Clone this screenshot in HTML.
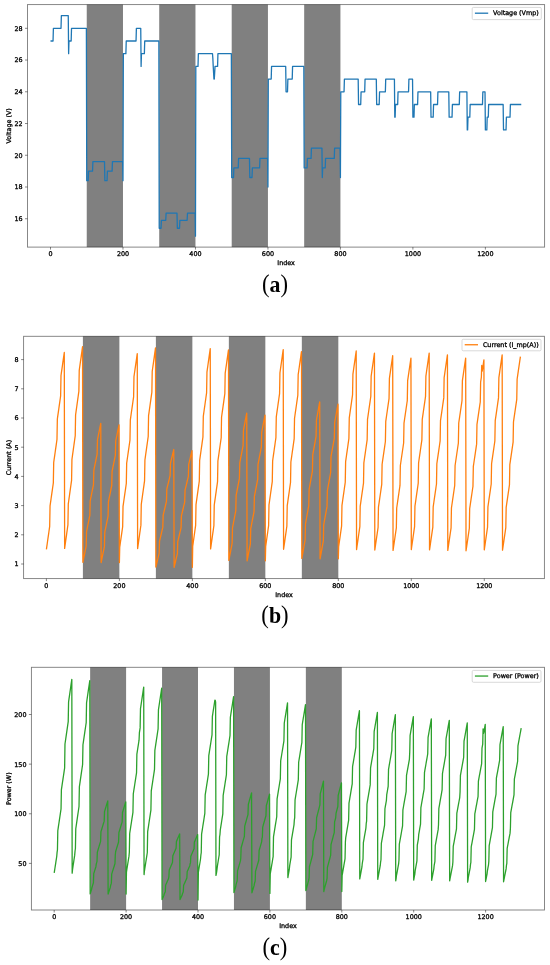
<!DOCTYPE html>
<html><head><meta charset="utf-8"><title>Figure</title>
<style>
html,body{margin:0;padding:0;background:#fff;}
body{width:550px;height:965px;position:relative;overflow:hidden;}
.t{font-family:'DejaVu Sans','Liberation Sans',sans-serif;font-size:6.4px;fill:#000;stroke:#000;stroke-width:0.3px;}
.cap{position:absolute;left:0;width:550px;text-align:center;font-family:'Liberation Serif','DejaVu Serif',serif;font-size:23.5px;line-height:30px;color:#000;transform:scaleX(0.93);transform-origin:274.6px 0;white-space:nowrap;}
.cap b{font-weight:bold;}
.cap i{font-style:normal;font-size:24.4px;position:relative;top:0.2px;}
</style></head><body>
<svg width="550" height="965" viewBox="0 0 550 965" style="position:absolute;left:0;top:0">
<rect width="550" height="965" fill="#fff"/>
<rect x="86.74" y="4.60" width="36.24" height="242.50" fill="#808080"/>
<rect x="159.22" y="4.60" width="36.24" height="242.50" fill="#808080"/>
<rect x="231.70" y="4.60" width="36.24" height="242.50" fill="#808080"/>
<rect x="304.18" y="4.60" width="36.24" height="242.50" fill="#808080"/>
<clipPath id="c4"><rect x="27.50" y="4.60" width="517.10" height="242.50"/></clipPath>
<polyline clip-path="url(#c4)" fill="none" stroke="#1f77b4" stroke-width="1.3" stroke-linejoin="round" stroke-linecap="butt" points="50.50,41.00 50.86,41.00 51.22,41.00 51.59,41.00 51.95,41.00 52.31,41.00 52.67,41.00 53.04,41.00 53.40,28.30 53.76,28.30 54.12,28.30 54.49,28.30 54.85,28.30 55.21,28.30 55.57,28.30 55.94,28.30 56.30,28.30 56.66,28.30 57.02,28.30 57.39,28.30 57.75,28.30 58.11,28.30 58.47,28.30 58.84,28.30 59.20,28.30 59.56,28.30 59.92,28.30 60.28,28.30 60.65,28.30 61.01,28.30 61.37,15.60 61.73,15.60 62.10,15.60 62.46,15.60 62.82,15.60 63.18,15.60 63.55,15.60 63.91,15.60 64.27,15.60 64.63,15.60 65.00,15.60 65.36,15.60 65.72,15.60 66.08,15.60 66.45,15.60 66.81,15.60 67.17,15.60 67.53,15.60 67.90,15.60 68.26,15.60 68.62,53.69 68.98,41.00 69.34,41.00 69.71,41.00 70.07,41.00 70.43,41.00 70.79,41.00 71.16,41.00 71.52,28.30 71.88,28.30 72.24,28.30 72.61,28.30 72.97,28.30 73.33,28.30 73.69,28.30 74.06,28.30 74.42,28.30 74.78,28.30 75.14,28.30 75.51,28.30 75.87,28.30 76.23,28.30 76.59,28.30 76.96,28.30 77.32,28.30 77.68,28.30 78.04,28.30 78.40,28.30 78.77,28.30 79.13,28.30 79.49,28.30 79.85,28.30 80.22,28.30 80.58,28.30 80.94,28.30 81.30,28.30 81.67,28.30 82.03,28.30 82.39,28.30 82.75,28.30 83.12,28.30 83.48,28.30 83.84,28.30 84.20,28.30 84.57,28.30 84.93,28.30 85.29,28.30 85.65,28.30 86.02,28.30 86.38,28.30 86.74,180.65 87.10,180.65 87.46,180.65 87.83,180.65 88.19,180.65 88.55,171.13 88.91,171.13 89.28,171.13 89.64,171.13 90.00,171.13 90.36,171.13 90.73,171.13 91.09,171.13 91.45,171.13 91.81,171.13 92.18,171.13 92.54,171.13 92.90,161.61 93.26,161.61 93.63,161.61 93.99,161.61 94.35,161.61 94.71,161.61 95.08,161.61 95.44,161.61 95.80,161.61 96.16,161.61 96.52,161.61 96.89,161.61 97.25,161.61 97.61,161.61 97.97,161.61 98.34,161.61 98.70,161.61 99.06,161.61 99.42,161.61 99.79,161.61 100.15,161.61 100.51,161.61 100.87,161.61 101.24,161.61 101.60,161.61 101.96,161.61 102.32,161.61 102.69,161.61 103.05,161.61 103.41,161.61 103.77,161.61 104.14,161.61 104.50,161.61 104.86,180.65 105.22,180.65 105.58,180.65 105.95,180.65 106.31,180.65 106.67,180.65 107.03,180.65 107.40,171.13 107.76,171.13 108.12,171.13 108.48,171.13 108.85,171.13 109.21,171.13 109.57,171.13 109.93,171.13 110.30,171.13 110.66,171.13 111.02,171.13 111.38,171.13 111.75,171.13 112.11,171.13 112.47,161.61 112.83,161.61 113.20,161.61 113.56,161.61 113.92,161.61 114.28,161.61 114.64,161.61 115.01,161.61 115.37,161.61 115.73,161.61 116.09,161.61 116.46,161.61 116.82,161.61 117.18,161.61 117.54,161.61 117.91,161.61 118.27,161.61 118.63,161.61 118.99,161.61 119.36,161.61 119.72,161.61 120.08,161.61 120.44,161.61 120.81,161.61 121.17,161.61 121.53,161.61 121.89,161.61 122.26,161.61 122.62,161.61 122.98,180.65 123.34,53.69 123.70,53.69 124.07,53.69 124.43,53.69 124.79,53.69 125.15,53.69 125.52,53.69 125.88,53.69 126.24,41.00 126.60,41.00 126.97,41.00 127.33,41.00 127.69,41.00 128.05,41.00 128.42,41.00 128.78,41.00 129.14,41.00 129.50,41.00 129.87,41.00 130.23,41.00 130.59,41.00 130.95,41.00 131.32,41.00 131.68,41.00 132.04,41.00 132.40,41.00 132.76,41.00 133.13,41.00 133.49,41.00 133.85,41.00 134.21,41.00 134.58,41.00 134.94,41.00 135.30,41.00 135.66,41.00 136.03,41.00 136.39,28.30 136.75,28.30 137.11,28.30 137.48,28.30 137.84,28.30 138.20,28.30 138.56,28.30 138.93,28.30 139.29,28.30 139.65,28.30 140.01,28.30 140.38,28.30 140.74,28.30 141.10,66.39 141.46,53.69 141.82,53.69 142.19,53.69 142.55,53.69 142.91,53.69 143.27,53.69 143.64,53.69 144.00,53.69 144.36,53.69 144.72,41.00 145.09,41.00 145.45,41.00 145.81,41.00 146.17,41.00 146.54,41.00 146.90,41.00 147.26,41.00 147.62,41.00 147.99,41.00 148.35,41.00 148.71,41.00 149.07,41.00 149.44,41.00 149.80,41.00 150.16,41.00 150.52,41.00 150.88,41.00 151.25,41.00 151.61,41.00 151.97,41.00 152.33,41.00 152.70,41.00 153.06,41.00 153.42,41.00 153.78,41.00 154.15,41.00 154.51,41.00 154.87,41.00 155.23,41.00 155.60,41.00 155.96,41.00 156.32,41.00 156.68,41.00 157.05,41.00 157.41,41.00 157.77,41.00 158.13,41.00 158.50,41.00 158.86,41.00 159.22,228.26 159.58,228.26 159.94,228.26 160.31,228.26 160.67,228.26 161.03,228.26 161.39,220.33 161.76,220.33 162.12,220.33 162.48,220.33 162.84,220.33 163.21,220.33 163.57,220.33 163.93,220.33 164.29,220.33 164.66,220.33 165.02,220.33 165.38,220.33 165.74,220.33 166.11,213.19 166.47,213.19 166.83,213.19 167.19,213.19 167.56,213.19 167.92,213.19 168.28,213.19 168.64,213.19 169.00,213.19 169.37,213.19 169.73,213.19 170.09,213.19 170.45,213.19 170.82,213.19 171.18,213.19 171.54,213.19 171.90,213.19 172.27,213.19 172.63,213.19 172.99,213.19 173.35,213.19 173.72,213.19 174.08,213.19 174.44,213.19 174.80,213.19 175.17,213.19 175.53,213.19 175.89,213.19 176.25,213.19 176.62,213.19 176.98,213.19 177.34,228.26 177.70,228.26 178.06,228.26 178.43,228.26 178.79,228.26 179.15,228.26 179.51,228.26 179.88,220.33 180.24,220.33 180.60,220.33 180.96,220.33 181.33,220.33 181.69,220.33 182.05,220.33 182.41,220.33 182.78,220.33 183.14,220.33 183.50,220.33 183.86,220.33 184.23,220.33 184.59,220.33 184.95,220.33 185.31,220.33 185.68,220.33 186.04,220.33 186.40,220.33 186.76,220.33 187.12,220.33 187.49,213.19 187.85,213.19 188.21,213.19 188.57,213.19 188.94,213.19 189.30,213.19 189.66,213.19 190.02,213.19 190.39,213.19 190.75,213.19 191.11,213.19 191.47,213.19 191.84,213.19 192.20,213.19 192.56,213.19 192.92,213.19 193.29,213.19 193.65,213.19 194.01,213.19 194.37,213.19 194.74,213.19 195.10,213.19 195.46,236.20 195.82,66.39 196.18,66.39 196.55,66.39 196.91,66.39 197.27,66.39 197.63,66.39 198.00,66.39 198.36,53.69 198.72,53.69 199.08,53.69 199.45,53.69 199.81,53.69 200.17,53.69 200.53,53.69 200.90,53.69 201.26,53.69 201.62,53.69 201.98,53.69 202.35,53.69 202.71,53.69 203.07,53.69 203.43,53.69 203.80,53.69 204.16,53.69 204.52,53.69 204.88,53.69 205.24,53.69 205.61,53.69 205.97,53.69 206.33,53.69 206.69,53.69 207.06,53.69 207.42,53.69 207.78,53.69 208.14,53.69 208.51,53.69 208.87,53.69 209.23,53.69 209.59,53.69 209.96,53.69 210.32,53.69 210.68,53.69 211.04,53.69 211.41,53.69 211.77,53.69 212.13,53.69 212.49,53.69 212.86,58.45 213.22,66.39 213.58,72.74 213.94,79.08 214.30,79.08 214.67,72.74 215.03,66.39 215.39,66.39 215.75,66.39 216.12,66.39 216.48,66.39 216.84,66.39 217.20,66.39 217.57,66.39 217.93,53.69 218.29,53.69 218.65,53.69 219.02,53.69 219.38,53.69 219.74,53.69 220.10,53.69 220.47,53.69 220.83,53.69 221.19,53.69 221.55,53.69 221.92,53.69 222.28,53.69 222.64,53.69 223.00,53.69 223.36,53.69 223.73,53.69 224.09,53.69 224.45,53.69 224.81,53.69 225.18,53.69 225.54,53.69 225.90,53.69 226.26,53.69 226.63,53.69 226.99,53.69 227.35,53.69 227.71,53.69 228.08,53.69 228.44,53.69 228.80,53.69 229.16,53.69 229.53,53.69 229.89,53.69 230.25,53.69 230.61,53.69 230.98,53.69 231.34,53.69 231.70,177.48 232.06,177.48 232.42,177.48 232.79,177.48 233.15,177.48 233.51,177.48 233.87,167.96 234.24,167.96 234.60,167.96 234.96,167.96 235.32,167.96 235.69,167.96 236.05,167.96 236.41,167.96 236.77,167.96 237.14,167.96 237.50,167.96 237.86,167.96 238.22,167.96 238.59,158.43 238.95,158.43 239.31,158.43 239.67,158.43 240.04,158.43 240.40,158.43 240.76,158.43 241.12,158.43 241.48,158.43 241.85,158.43 242.21,158.43 242.57,158.43 242.93,158.43 243.30,158.43 243.66,158.43 244.02,158.43 244.38,158.43 244.75,158.43 245.11,158.43 245.47,158.43 245.83,158.43 246.20,158.43 246.56,158.43 246.92,158.43 247.28,158.43 247.65,158.43 248.01,158.43 248.37,158.43 248.73,158.43 249.10,158.43 249.46,158.43 249.82,177.48 250.18,177.48 250.54,177.48 250.91,177.48 251.27,177.48 251.63,177.48 251.99,177.48 252.36,167.96 252.72,167.96 253.08,167.96 253.44,167.96 253.81,167.96 254.17,167.96 254.53,167.96 254.89,167.96 255.26,167.96 255.62,167.96 255.98,167.96 256.34,167.96 256.71,167.96 257.07,167.96 257.43,167.96 257.79,167.96 258.16,167.96 258.52,167.96 258.88,167.96 259.24,167.96 259.60,167.96 259.97,158.43 260.33,158.43 260.69,158.43 261.05,158.43 261.42,158.43 261.78,158.43 262.14,158.43 262.50,158.43 262.87,158.43 263.23,158.43 263.59,158.43 263.95,158.43 264.32,158.43 264.68,158.43 265.04,158.43 265.40,158.43 265.77,158.43 266.13,158.43 266.49,158.43 266.85,158.43 267.22,158.43 267.58,158.43 267.94,187.00 268.30,79.08 268.66,79.08 269.03,79.08 269.39,79.08 269.75,79.08 270.11,79.08 270.48,79.08 270.84,79.08 271.20,79.08 271.56,66.39 271.93,66.39 272.29,66.39 272.65,66.39 273.01,66.39 273.38,66.39 273.74,66.39 274.10,66.39 274.46,66.39 274.83,66.39 275.19,66.39 275.55,66.39 275.91,66.39 276.28,66.39 276.64,66.39 277.00,66.39 277.36,66.39 277.72,66.39 278.09,66.39 278.45,66.39 278.81,66.39 279.17,66.39 279.54,66.39 279.90,66.39 280.26,66.39 280.62,66.39 280.99,66.39 281.35,66.39 281.71,66.39 282.07,66.39 282.44,66.39 282.80,66.39 283.16,66.39 283.52,66.39 283.89,66.39 284.25,66.39 284.61,66.39 284.97,66.39 285.34,66.39 285.70,66.39 286.06,91.78 286.42,91.78 286.78,91.78 287.15,91.78 287.51,91.78 287.87,79.08 288.23,79.08 288.60,79.08 288.96,79.08 289.32,79.08 289.68,79.08 290.05,79.08 290.41,79.08 290.77,79.08 291.13,79.08 291.50,79.08 291.86,79.08 292.22,79.08 292.58,66.39 292.95,66.39 293.31,66.39 293.67,66.39 294.03,66.39 294.40,66.39 294.76,66.39 295.12,66.39 295.48,66.39 295.84,66.39 296.21,66.39 296.57,66.39 296.93,66.39 297.29,66.39 297.66,66.39 298.02,66.39 298.38,66.39 298.74,66.39 299.11,66.39 299.47,66.39 299.83,66.39 300.19,66.39 300.56,66.39 300.92,66.39 301.28,66.39 301.64,66.39 302.01,66.39 302.37,66.39 302.73,66.39 303.09,66.39 303.46,66.39 303.82,66.39 304.18,167.96 304.54,167.96 304.90,167.96 305.27,167.96 305.63,167.96 305.99,167.96 306.35,167.96 306.72,167.96 307.08,167.96 307.44,158.43 307.80,158.43 308.17,158.43 308.53,158.43 308.89,158.43 309.25,158.43 309.62,158.43 309.98,158.43 310.34,158.43 310.70,158.43 311.07,158.43 311.43,148.12 311.79,148.12 312.15,148.12 312.52,148.12 312.88,148.12 313.24,148.12 313.60,148.12 313.96,148.12 314.33,148.12 314.69,148.12 315.05,148.12 315.41,148.12 315.78,148.12 316.14,148.12 316.50,148.12 316.86,148.12 317.23,148.12 317.59,148.12 317.95,148.12 318.31,148.12 318.68,148.12 319.04,148.12 319.40,148.12 319.76,148.12 320.13,148.12 320.49,148.12 320.85,148.12 321.21,148.12 321.58,148.12 321.94,148.12 322.30,177.48 322.66,167.96 323.02,167.96 323.39,167.96 323.75,167.96 324.11,167.96 324.47,167.96 324.84,167.96 325.20,167.96 325.56,158.43 325.92,158.43 326.29,158.43 326.65,158.43 327.01,158.43 327.37,158.43 327.74,158.43 328.10,158.43 328.46,158.43 328.82,158.43 329.19,158.43 329.55,158.43 329.91,158.43 330.27,158.43 330.64,158.43 331.00,158.43 331.36,158.43 331.72,158.43 332.08,158.43 332.45,158.43 332.81,158.43 333.17,158.43 333.53,158.43 333.90,158.43 334.26,158.43 334.62,148.12 334.98,148.12 335.35,148.12 335.71,148.12 336.07,148.12 336.43,148.12 336.80,148.12 337.16,148.12 337.52,148.12 337.88,148.12 338.25,148.12 338.61,148.12 338.97,148.12 339.33,148.12 339.70,148.12 340.06,148.12 340.42,177.48 340.78,91.78 341.14,91.78 341.51,91.78 341.87,91.78 342.23,91.78 342.59,91.78 342.96,91.78 343.32,91.78 343.68,91.78 344.04,91.78 344.41,79.08 344.77,79.08 345.13,79.08 345.49,79.08 345.86,79.08 346.22,79.08 346.58,79.08 346.94,79.08 347.31,79.08 347.67,79.08 348.03,79.08 348.39,79.08 348.76,79.08 349.12,79.08 349.48,79.08 349.84,79.08 350.20,79.08 350.57,79.08 350.93,79.08 351.29,79.08 351.65,79.08 352.02,79.08 352.38,79.08 352.74,79.08 353.10,79.08 353.47,79.08 353.83,79.08 354.19,79.08 354.55,79.08 354.92,79.08 355.28,79.08 355.64,79.08 356.00,79.08 356.37,79.08 356.73,79.08 357.09,79.08 357.45,79.08 357.82,79.08 358.18,79.08 358.54,104.48 358.90,104.48 359.26,104.48 359.63,104.48 359.99,104.48 360.35,104.48 360.71,104.48 361.08,91.78 361.44,91.78 361.80,91.78 362.16,91.78 362.53,91.78 362.89,91.78 363.25,91.78 363.61,91.78 363.98,91.78 364.34,91.78 364.70,91.78 365.06,79.08 365.43,79.08 365.79,79.08 366.15,79.08 366.51,79.08 366.88,79.08 367.24,79.08 367.60,79.08 367.96,79.08 368.32,79.08 368.69,79.08 369.05,79.08 369.41,79.08 369.77,79.08 370.14,79.08 370.50,79.08 370.86,79.08 371.22,79.08 371.59,79.08 371.95,79.08 372.31,79.08 372.67,79.08 373.04,79.08 373.40,79.08 373.76,79.08 374.12,79.08 374.49,79.08 374.85,79.08 375.21,79.08 375.57,79.08 375.94,79.08 376.30,79.08 376.66,104.48 377.02,104.48 377.38,104.48 377.75,104.48 378.11,104.48 378.47,104.48 378.83,104.48 379.20,104.48 379.56,91.78 379.92,91.78 380.28,91.78 380.65,91.78 381.01,91.78 381.37,91.78 381.73,91.78 382.10,91.78 382.46,91.78 382.82,91.78 383.18,91.78 383.55,91.78 383.91,91.78 384.27,91.78 384.63,91.78 385.00,91.78 385.36,91.78 385.72,79.08 386.08,79.08 386.44,79.08 386.81,79.08 387.17,79.08 387.53,79.08 387.89,79.08 388.26,79.08 388.62,79.08 388.98,79.08 389.34,79.08 389.71,79.08 390.07,79.08 390.43,79.08 390.79,79.08 391.16,79.08 391.52,79.08 391.88,79.08 392.24,79.08 392.61,79.08 392.97,79.08 393.33,79.08 393.69,79.08 394.06,79.08 394.42,79.08 394.78,117.17 395.14,117.17 395.50,104.48 395.87,104.48 396.23,104.48 396.59,104.48 396.95,104.48 397.32,104.48 397.68,104.48 398.04,91.78 398.40,91.78 398.77,91.78 399.13,91.78 399.49,91.78 399.85,91.78 400.22,91.78 400.58,91.78 400.94,91.78 401.30,91.78 401.67,91.78 402.03,91.78 402.39,91.78 402.75,91.78 403.12,91.78 403.48,91.78 403.84,91.78 404.20,91.78 404.56,91.78 404.93,91.78 405.29,91.78 405.65,91.78 406.01,91.78 406.38,91.78 406.74,91.78 407.10,91.78 407.46,91.78 407.83,91.78 408.19,91.78 408.55,91.78 408.91,79.08 409.28,79.08 409.64,79.08 410.00,79.08 410.36,79.08 410.73,79.08 411.09,79.08 411.45,79.08 411.81,79.08 412.18,79.08 412.54,79.08 412.90,117.17 413.26,117.17 413.62,117.17 413.99,117.17 414.35,104.48 414.71,104.48 415.07,104.48 415.44,104.48 415.80,104.48 416.16,104.48 416.52,104.48 416.89,104.48 417.25,104.48 417.61,104.48 417.97,91.78 418.34,91.78 418.70,91.78 419.06,91.78 419.42,91.78 419.79,91.78 420.15,91.78 420.51,91.78 420.87,91.78 421.24,91.78 421.60,91.78 421.96,91.78 422.32,91.78 422.68,91.78 423.05,91.78 423.41,91.78 423.77,91.78 424.13,91.78 424.50,91.78 424.86,91.78 425.22,91.78 425.58,91.78 425.95,91.78 426.31,91.78 426.67,91.78 427.03,91.78 427.40,91.78 427.76,91.78 428.12,91.78 428.48,91.78 428.85,91.78 429.21,91.78 429.57,91.78 429.93,91.78 430.30,91.78 430.66,91.78 431.02,117.17 431.38,117.17 431.74,117.17 432.11,117.17 432.47,117.17 432.83,117.17 433.19,117.17 433.56,104.48 433.92,104.48 434.28,104.48 434.64,104.48 435.01,104.48 435.37,104.48 435.73,104.48 436.09,104.48 436.46,104.48 436.82,104.48 437.18,104.48 437.54,104.48 437.91,91.78 438.27,91.78 438.63,91.78 438.99,91.78 439.36,91.78 439.72,91.78 440.08,91.78 440.44,91.78 440.80,91.78 441.17,91.78 441.53,91.78 441.89,91.78 442.25,91.78 442.62,91.78 442.98,91.78 443.34,91.78 443.70,91.78 444.07,91.78 444.43,91.78 444.79,91.78 445.15,91.78 445.52,91.78 445.88,91.78 446.24,91.78 446.60,91.78 446.97,91.78 447.33,91.78 447.69,91.78 448.05,91.78 448.42,91.78 448.78,91.78 449.14,117.17 449.50,117.17 449.86,117.17 450.23,117.17 450.59,117.17 450.95,117.17 451.31,117.17 451.68,117.17 452.04,117.17 452.40,104.48 452.76,104.48 453.13,104.48 453.49,104.48 453.85,104.48 454.21,104.48 454.58,104.48 454.94,104.48 455.30,104.48 455.66,104.48 456.03,104.48 456.39,104.48 456.75,104.48 457.11,104.48 457.48,104.48 457.84,104.48 458.20,104.48 458.56,104.48 458.92,104.48 459.29,104.48 459.65,91.78 460.01,91.78 460.37,91.78 460.74,91.78 461.10,91.78 461.46,91.78 461.82,91.78 462.19,91.78 462.55,91.78 462.91,91.78 463.27,91.78 463.64,91.78 464.00,91.78 464.36,91.78 464.72,91.78 465.09,91.78 465.45,91.78 465.81,91.78 466.17,91.78 466.54,91.78 466.90,91.78 467.26,129.87 467.62,129.87 467.98,117.17 468.35,117.17 468.71,117.17 469.07,117.17 469.43,117.17 469.80,117.17 470.16,104.48 470.52,104.48 470.88,104.48 471.25,104.48 471.61,104.48 471.97,104.48 472.33,104.48 472.70,104.48 473.06,104.48 473.42,104.48 473.78,104.48 474.15,104.48 474.51,104.48 474.87,104.48 475.23,104.48 475.60,104.48 475.96,104.48 476.32,104.48 476.68,104.48 477.04,104.48 477.41,104.48 477.77,104.48 478.13,104.48 478.49,104.48 478.86,104.48 479.22,104.48 479.58,104.48 479.94,104.48 480.31,104.48 480.67,104.48 481.03,104.48 481.39,104.48 481.76,104.48 482.12,104.48 482.48,104.48 482.84,91.78 483.21,91.78 483.57,91.78 483.93,91.78 484.29,91.78 484.66,91.78 485.02,91.78 485.38,129.87 485.74,129.87 486.10,129.87 486.47,129.87 486.83,129.87 487.19,117.17 487.55,117.17 487.92,117.17 488.28,117.17 488.64,104.48 489.00,104.48 489.37,104.48 489.73,104.48 490.09,104.48 490.45,104.48 490.82,104.48 491.18,104.48 491.54,104.48 491.90,104.48 492.27,104.48 492.63,104.48 492.99,104.48 493.35,104.48 493.72,104.48 494.08,104.48 494.44,104.48 494.80,104.48 495.16,104.48 495.53,104.48 495.89,104.48 496.25,104.48 496.61,104.48 496.98,104.48 497.34,104.48 497.70,104.48 498.06,104.48 498.43,104.48 498.79,104.48 499.15,104.48 499.51,104.48 499.88,104.48 500.24,104.48 500.60,104.48 500.96,104.48 501.33,104.48 501.69,104.48 502.05,104.48 502.41,104.48 502.78,104.48 503.14,104.48 503.50,129.87 503.86,129.87 504.22,129.87 504.59,129.87 504.95,129.87 505.31,129.87 505.67,129.87 506.04,129.87 506.40,117.17 506.76,117.17 507.12,117.17 507.49,117.17 507.85,117.17 508.21,117.17 508.57,117.17 508.94,117.17 509.30,117.17 509.66,117.17 510.02,117.17 510.39,104.48 510.75,104.48 511.11,104.48 511.47,104.48 511.84,104.48 512.20,104.48 512.56,104.48 512.92,104.48 513.28,104.48 513.65,104.48 514.01,104.48 514.37,104.48 514.73,104.48 515.10,104.48 515.46,104.48 515.82,104.48 516.18,104.48 516.55,104.48 516.91,104.48 517.27,104.48 517.63,104.48 518.00,104.48 518.36,104.48 518.72,104.48 519.08,104.48 519.45,104.48 519.81,104.48 520.17,104.48 520.53,104.48 520.90,104.48 521.26,104.48"/>
<rect x="27.50" y="4.60" width="517.10" height="242.50" fill="none" stroke="#000" stroke-opacity="0.52" stroke-width="0.9"/>
<line x1="50.50" y1="247.10" x2="50.50" y2="249.60" stroke="#000" stroke-opacity="0.52" stroke-width="0.9"/>
<text x="50.50" y="256.45" text-anchor="middle" class="t">0</text>
<line x1="122.98" y1="247.10" x2="122.98" y2="249.60" stroke="#000" stroke-opacity="0.52" stroke-width="0.9"/>
<text x="122.98" y="256.45" text-anchor="middle" class="t">200</text>
<line x1="195.46" y1="247.10" x2="195.46" y2="249.60" stroke="#000" stroke-opacity="0.52" stroke-width="0.9"/>
<text x="195.46" y="256.45" text-anchor="middle" class="t">400</text>
<line x1="267.94" y1="247.10" x2="267.94" y2="249.60" stroke="#000" stroke-opacity="0.52" stroke-width="0.9"/>
<text x="267.94" y="256.45" text-anchor="middle" class="t">600</text>
<line x1="340.42" y1="247.10" x2="340.42" y2="249.60" stroke="#000" stroke-opacity="0.52" stroke-width="0.9"/>
<text x="340.42" y="256.45" text-anchor="middle" class="t">800</text>
<line x1="412.90" y1="247.10" x2="412.90" y2="249.60" stroke="#000" stroke-opacity="0.52" stroke-width="0.9"/>
<text x="412.90" y="256.45" text-anchor="middle" class="t">1000</text>
<line x1="485.38" y1="247.10" x2="485.38" y2="249.60" stroke="#000" stroke-opacity="0.52" stroke-width="0.9"/>
<text x="485.38" y="256.45" text-anchor="middle" class="t">1200</text>
<line x1="25.00" y1="218.74" x2="27.50" y2="218.74" stroke="#000" stroke-opacity="0.52" stroke-width="0.9"/>
<text x="22.60" y="221.14" text-anchor="end" class="t">16</text>
<line x1="25.00" y1="187.00" x2="27.50" y2="187.00" stroke="#000" stroke-opacity="0.52" stroke-width="0.9"/>
<text x="22.60" y="189.40" text-anchor="end" class="t">18</text>
<line x1="25.00" y1="155.26" x2="27.50" y2="155.26" stroke="#000" stroke-opacity="0.52" stroke-width="0.9"/>
<text x="22.60" y="157.66" text-anchor="end" class="t">20</text>
<line x1="25.00" y1="123.52" x2="27.50" y2="123.52" stroke="#000" stroke-opacity="0.52" stroke-width="0.9"/>
<text x="22.60" y="125.92" text-anchor="end" class="t">22</text>
<line x1="25.00" y1="91.78" x2="27.50" y2="91.78" stroke="#000" stroke-opacity="0.52" stroke-width="0.9"/>
<text x="22.60" y="94.18" text-anchor="end" class="t">24</text>
<line x1="25.00" y1="60.04" x2="27.50" y2="60.04" stroke="#000" stroke-opacity="0.52" stroke-width="0.9"/>
<text x="22.60" y="62.44" text-anchor="end" class="t">26</text>
<line x1="25.00" y1="28.30" x2="27.50" y2="28.30" stroke="#000" stroke-opacity="0.52" stroke-width="0.9"/>
<text x="22.60" y="30.70" text-anchor="end" class="t">28</text>
<text x="286.05" y="265.10" text-anchor="middle" class="t">Index</text>
<text transform="translate(11.00,125.85) rotate(-90)" text-anchor="middle" class="t">Voltage (V)</text>
<rect x="472.20" y="7.40" width="69.10" height="12.20" rx="1.3" fill="#fff" fill-opacity="0.8" stroke="#c8c8c8" stroke-width="0.7"/>
<line x1="474.90" y1="13.20" x2="488.20" y2="13.20" stroke="#1f77b4" stroke-width="1.3"/>
<text x="493.10" y="15.20" class="t">Voltage (Vmp)</text>
<rect x="82.89" y="336.30" width="36.49" height="242.30" fill="#808080"/>
<rect x="155.87" y="336.30" width="36.49" height="242.30" fill="#808080"/>
<rect x="228.85" y="336.30" width="36.49" height="242.30" fill="#808080"/>
<rect x="301.83" y="336.30" width="36.49" height="242.30" fill="#808080"/>
<clipPath id="c336"><rect x="23.60" y="336.30" width="520.80" height="242.30"/></clipPath>
<polyline clip-path="url(#c336)" fill="none" stroke="#ff7f0e" stroke-width="1.3" stroke-linejoin="round" stroke-linecap="butt" points="46.40,549.43 46.76,546.87 47.13,544.31 47.49,541.75 47.86,539.19 48.22,536.63 48.59,534.07 48.95,531.51 49.32,528.95 49.68,526.39 50.05,505.95 50.41,503.39 50.78,500.83 51.14,498.27 51.51,495.71 51.87,493.15 52.24,490.59 52.60,488.03 52.97,485.47 53.33,482.91 53.70,462.47 54.06,459.91 54.43,457.35 54.79,454.79 55.16,452.23 55.52,449.67 55.89,447.11 56.25,444.55 56.62,441.99 56.98,439.43 57.35,418.99 57.71,416.43 58.08,413.87 58.44,411.31 58.81,408.75 59.17,406.19 59.54,403.63 59.90,401.07 60.27,398.51 60.63,395.95 61.00,375.51 61.36,372.95 61.73,370.39 62.09,367.83 62.46,365.27 62.82,362.71 63.19,360.15 63.55,357.59 63.92,355.03 64.28,352.47 64.64,548.39 65.01,545.77 65.37,543.15 65.74,540.53 66.10,537.91 66.47,535.29 66.83,532.66 67.20,530.04 67.56,527.42 67.93,524.80 68.29,503.87 68.66,501.25 69.02,498.63 69.39,496.01 69.75,493.39 70.12,490.77 70.48,488.15 70.85,485.53 71.21,482.91 71.58,480.29 71.94,459.35 72.31,456.73 72.67,454.11 73.04,451.49 73.40,448.87 73.77,446.25 74.13,443.63 74.50,441.01 74.86,438.39 75.23,435.77 75.59,414.84 75.96,412.22 76.32,409.60 76.69,406.98 77.05,404.35 77.42,401.73 77.78,399.11 78.15,396.49 78.51,393.87 78.88,391.25 79.24,370.32 79.61,367.70 79.97,365.08 80.34,362.46 80.70,359.84 81.07,357.22 81.43,354.60 81.80,351.98 82.16,349.36 82.53,346.74 82.89,562.32 83.25,560.51 83.62,558.71 83.98,556.90 84.35,555.09 84.71,553.29 85.08,551.48 85.44,549.68 85.81,547.87 86.17,546.06 86.54,531.64 86.90,529.83 87.27,528.03 87.63,526.22 88.00,524.42 88.36,522.61 88.73,520.80 89.09,519.00 89.46,517.19 89.82,515.39 90.19,500.96 90.55,499.16 90.92,497.35 91.28,495.54 91.65,493.74 92.01,491.93 92.38,490.13 92.74,488.32 93.11,486.51 93.47,484.71 93.84,470.28 94.20,468.48 94.57,466.67 94.93,464.87 95.30,463.06 95.66,461.25 96.03,459.45 96.39,457.64 96.76,455.84 97.12,454.03 97.49,439.60 97.85,437.80 98.22,435.99 98.58,434.19 98.95,432.38 99.31,430.57 99.68,428.77 100.04,426.96 100.41,425.16 100.77,423.35 101.13,562.59 101.50,560.80 101.86,559.01 102.23,557.21 102.59,555.42 102.96,553.63 103.32,551.84 103.69,550.05 104.05,548.26 104.42,546.47 104.78,532.17 105.15,530.38 105.51,528.59 105.88,526.80 106.24,525.01 106.61,523.22 106.97,521.43 107.34,519.64 107.70,517.85 108.07,516.06 108.43,501.76 108.80,499.97 109.16,498.18 109.53,496.39 109.89,494.60 110.26,492.81 110.62,491.02 110.99,489.23 111.35,487.44 111.72,485.65 112.08,471.35 112.45,469.56 112.81,467.77 113.18,465.98 113.54,464.19 113.91,462.40 114.27,460.61 114.64,458.82 115.00,457.02 115.37,455.23 115.73,440.93 116.10,439.14 116.46,437.35 116.83,435.56 117.19,433.77 117.56,431.98 117.92,430.19 118.29,428.40 118.65,426.61 119.02,424.82 119.38,562.59 119.74,547.10 120.11,544.55 120.47,542.00 120.84,539.46 121.20,536.91 121.57,534.36 121.93,531.82 122.30,529.27 122.66,526.72 123.03,506.38 123.39,503.83 123.76,501.28 124.12,498.74 124.49,496.19 124.85,493.64 125.22,491.09 125.58,488.55 125.95,486.00 126.31,483.45 126.68,463.11 127.04,460.56 127.41,458.01 127.77,455.47 128.14,452.92 128.50,450.37 128.87,447.83 129.23,445.28 129.60,442.73 129.96,440.18 130.33,419.84 130.69,417.29 131.06,414.74 131.42,412.20 131.79,409.65 132.15,407.10 132.52,404.56 132.88,402.01 133.25,399.46 133.61,396.92 133.98,376.57 134.34,374.02 134.71,371.48 135.07,368.93 135.44,366.38 135.80,363.84 136.17,361.29 136.53,358.74 136.90,356.19 137.26,353.65 137.62,548.60 137.99,545.99 138.35,543.39 138.72,540.78 139.08,538.17 139.45,535.56 139.81,532.95 140.18,530.35 140.54,527.74 140.91,525.13 141.27,504.30 141.64,501.69 142.00,499.08 142.37,496.47 142.73,493.87 143.10,491.26 143.46,488.65 143.83,486.04 144.19,483.43 144.56,480.83 144.92,459.99 145.29,457.39 145.65,454.78 146.02,452.17 146.38,449.56 146.75,446.95 147.11,444.34 147.48,441.74 147.84,439.13 148.21,436.52 148.57,415.69 148.94,413.08 149.30,410.47 149.67,407.86 150.03,405.26 150.40,402.65 150.76,400.04 151.13,397.43 151.49,394.82 151.86,392.22 152.22,371.38 152.59,368.78 152.95,366.17 153.32,363.56 153.68,360.95 154.05,358.34 154.41,355.74 154.78,353.13 155.14,350.52 155.51,347.91 155.87,567.08 156.23,565.55 156.60,564.02 156.96,562.49 157.33,560.97 157.69,559.44 158.06,557.91 158.42,556.38 158.79,554.86 159.15,553.33 159.52,541.13 159.88,539.60 160.25,538.07 160.61,536.54 160.98,535.02 161.34,533.49 161.71,531.96 162.07,530.43 162.44,528.91 162.80,527.38 163.17,515.18 163.53,513.65 163.90,512.12 164.26,510.59 164.63,509.07 164.99,507.54 165.36,506.01 165.72,504.48 166.09,502.96 166.45,501.43 166.82,489.23 167.18,487.70 167.55,486.17 167.91,484.64 168.28,483.12 168.64,481.59 169.01,480.06 169.37,478.53 169.74,477.01 170.10,475.48 170.47,463.28 170.83,461.75 171.20,460.22 171.56,458.69 171.93,457.16 172.29,455.64 172.66,454.11 173.02,452.58 173.39,451.05 173.75,449.53 174.12,567.29 174.48,565.78 174.84,564.26 175.21,562.75 175.57,561.23 175.94,559.72 176.30,558.20 176.67,556.69 177.03,555.17 177.40,553.66 177.76,541.55 178.13,540.04 178.49,538.52 178.86,537.01 179.22,535.49 179.59,533.98 179.95,532.46 180.32,530.95 180.68,529.43 181.05,527.92 181.41,515.82 181.78,514.30 182.14,512.79 182.51,511.27 182.87,509.75 183.24,508.24 183.60,506.72 183.97,505.21 184.33,503.69 184.70,502.18 185.06,490.08 185.43,488.56 185.79,487.05 186.16,485.53 186.52,484.02 186.89,482.50 187.25,480.99 187.62,479.47 187.98,477.96 188.35,476.44 188.71,464.34 189.08,462.82 189.44,461.31 189.81,459.79 190.17,458.28 190.54,456.76 190.90,455.25 191.27,453.73 191.63,452.22 192.00,450.70 192.36,567.29 192.72,546.14 193.09,543.54 193.45,540.94 193.82,538.33 194.18,535.73 194.55,533.13 194.91,530.53 195.28,527.93 195.64,525.33 196.01,504.56 196.37,501.96 196.74,499.36 197.10,496.76 197.47,494.16 197.83,491.56 198.20,488.96 198.56,486.36 198.93,483.76 199.29,481.16 199.66,460.39 200.02,457.79 200.39,455.19 200.75,452.59 201.12,449.99 201.48,447.39 201.85,444.79 202.21,442.19 202.58,439.59 202.94,436.99 203.31,416.22 203.67,413.62 204.04,411.02 204.40,408.42 204.77,405.82 205.13,403.22 205.50,400.62 205.86,398.02 206.23,395.42 206.59,392.82 206.96,372.05 207.32,369.45 207.69,366.85 208.05,364.25 208.42,361.65 208.78,359.05 209.15,356.45 209.51,353.85 209.88,351.25 210.24,348.65 210.61,548.95 210.97,546.36 211.33,543.77 211.70,541.19 212.06,538.60 212.43,536.01 212.79,533.42 213.16,530.84 213.52,528.25 213.89,525.66 214.25,504.99 214.62,502.40 214.98,499.82 215.35,497.23 215.71,494.64 216.08,492.05 216.44,489.46 216.81,486.88 217.17,484.29 217.54,481.70 217.90,461.03 218.27,458.44 218.63,455.86 219.00,453.27 219.36,450.68 219.73,448.09 220.09,445.50 220.46,442.92 220.82,440.33 221.19,437.74 221.55,417.07 221.92,414.48 222.28,411.90 222.65,409.31 223.01,406.72 223.38,404.13 223.74,401.55 224.11,398.96 224.47,396.37 224.84,393.78 225.20,373.11 225.57,370.53 225.93,367.94 226.30,365.35 226.66,362.76 227.03,360.17 227.39,357.59 227.76,355.00 228.12,352.41 228.49,349.82 228.85,560.45 229.21,558.53 229.58,556.62 229.94,554.70 230.31,552.79 230.67,550.87 231.04,548.95 231.40,547.04 231.77,545.12 232.13,543.21 232.50,527.91 232.86,525.99 233.23,524.08 233.59,522.16 233.96,520.25 234.32,518.33 234.69,516.42 235.05,514.50 235.42,512.59 235.78,510.67 236.15,495.37 236.51,493.46 236.88,491.54 237.24,489.63 237.61,487.71 237.97,485.79 238.34,483.88 238.70,481.96 239.07,480.05 239.43,478.13 239.80,462.83 240.16,460.92 240.53,459.00 240.89,457.09 241.26,455.17 241.62,453.26 241.99,451.34 242.35,449.43 242.72,447.51 243.08,445.59 243.45,430.30 243.81,428.38 244.18,426.46 244.54,424.55 244.91,422.63 245.27,420.72 245.64,418.80 246.00,416.89 246.37,414.97 246.73,413.06 247.09,560.82 247.46,558.93 247.82,557.03 248.19,555.14 248.55,553.25 248.92,551.35 249.28,549.46 249.65,547.57 250.01,545.67 250.38,543.78 250.74,528.66 251.11,526.76 251.47,524.87 251.84,522.97 252.20,521.08 252.57,519.19 252.93,517.29 253.30,515.40 253.66,513.51 254.03,511.61 254.39,496.49 254.76,494.60 255.12,492.70 255.49,490.81 255.85,488.92 256.22,487.02 256.58,485.13 256.95,483.23 257.31,481.34 257.68,479.45 258.04,464.32 258.41,462.43 258.77,460.54 259.14,458.64 259.50,456.75 259.87,454.86 260.23,452.96 260.60,451.07 260.96,449.18 261.33,447.28 261.69,432.16 262.06,430.26 262.42,428.37 262.79,426.48 263.15,424.58 263.52,422.69 263.88,420.80 264.25,418.90 264.61,417.01 264.98,415.12 265.34,560.82 265.70,546.31 266.07,543.71 266.43,541.12 266.80,538.53 267.16,535.94 267.53,533.35 267.89,530.76 268.26,528.17 268.62,525.58 268.99,504.88 269.35,502.29 269.72,499.70 270.08,497.11 270.45,494.52 270.81,491.93 271.18,489.34 271.54,486.75 271.91,484.16 272.27,481.57 272.64,460.87 273.00,458.28 273.37,455.69 273.73,453.10 274.10,450.51 274.46,447.92 274.83,445.33 275.19,442.74 275.56,440.14 275.92,437.55 276.29,416.86 276.65,414.27 277.02,411.68 277.38,409.09 277.75,406.50 278.11,403.90 278.48,401.31 278.84,398.72 279.21,396.13 279.57,393.54 279.94,372.85 280.30,370.26 280.67,367.67 281.03,365.07 281.40,362.48 281.76,359.89 282.13,357.30 282.49,354.71 282.86,352.12 283.22,349.53 283.58,549.27 283.95,546.70 284.31,544.13 284.68,541.56 285.04,538.99 285.41,536.43 285.77,533.86 286.14,531.29 286.50,528.72 286.87,526.15 287.23,505.63 287.60,503.06 287.96,500.49 288.33,497.92 288.69,495.35 289.06,492.79 289.42,490.22 289.79,487.65 290.15,485.08 290.52,482.51 290.88,461.99 291.25,459.42 291.61,456.85 291.98,454.28 292.34,451.71 292.71,449.14 293.07,446.58 293.44,444.01 293.80,441.44 294.17,438.87 294.53,418.35 294.90,415.78 295.26,413.21 295.63,410.64 295.99,408.07 296.36,405.50 296.72,402.94 297.09,400.37 297.45,397.80 297.82,395.23 298.18,374.71 298.55,372.14 298.91,369.57 299.28,367.00 299.64,364.43 300.01,361.86 300.37,359.29 300.74,356.73 301.10,354.16 301.47,351.59 301.83,558.41 302.19,556.38 302.56,554.35 302.92,552.31 303.29,550.28 303.65,548.24 304.02,546.21 304.38,544.18 304.75,542.14 305.11,540.11 305.48,523.86 305.84,521.82 306.21,519.79 306.57,517.76 306.94,515.72 307.30,513.69 307.67,511.65 308.03,509.62 308.40,507.58 308.76,505.55 309.13,489.30 309.49,487.27 309.86,485.23 310.22,483.20 310.59,481.16 310.95,479.13 311.32,477.10 311.68,475.06 312.05,473.03 312.41,470.99 312.78,454.75 313.14,452.71 313.51,450.68 313.87,448.64 314.24,446.61 314.60,444.57 314.97,442.54 315.33,440.51 315.70,438.47 316.06,436.44 316.43,420.19 316.79,418.15 317.16,416.12 317.52,414.09 317.89,412.05 318.25,410.02 318.62,407.98 318.98,405.95 319.35,403.92 319.71,401.88 320.07,558.84 320.44,556.83 320.80,554.82 321.17,552.81 321.53,550.81 321.90,548.80 322.26,546.79 322.63,544.78 322.99,542.77 323.36,540.76 323.72,524.71 324.09,522.70 324.45,520.69 324.82,518.68 325.18,516.67 325.55,514.66 325.91,512.66 326.28,510.65 326.64,508.64 327.01,506.63 327.37,490.58 327.74,488.57 328.10,486.56 328.47,484.55 328.83,482.54 329.20,480.53 329.56,478.52 329.93,476.52 330.29,474.51 330.66,472.50 331.02,456.45 331.39,454.44 331.75,452.43 332.12,450.42 332.48,448.41 332.85,446.40 333.21,444.39 333.58,442.38 333.94,440.37 334.31,438.37 334.67,422.32 335.04,420.31 335.40,418.30 335.77,416.29 336.13,414.28 336.50,412.27 336.86,410.26 337.23,408.25 337.59,406.24 337.96,404.23 338.32,558.84 338.68,546.59 339.05,544.01 339.41,541.44 339.78,538.86 340.14,536.29 340.51,533.71 340.87,531.14 341.24,528.56 341.60,525.99 341.97,505.42 342.33,502.84 342.70,500.27 343.06,497.69 343.43,495.12 343.79,492.54 344.16,489.97 344.52,487.39 344.89,484.82 345.25,482.24 345.62,461.67 345.98,459.09 346.35,456.52 346.71,453.94 347.08,451.37 347.44,448.79 347.81,446.22 348.17,443.64 348.54,441.07 348.90,438.49 349.27,417.92 349.63,415.35 350.00,412.77 350.36,410.20 350.73,407.62 351.09,405.05 351.46,402.47 351.82,399.90 352.19,397.32 352.55,394.75 352.92,374.18 353.28,371.60 353.65,369.03 354.01,366.45 354.38,363.88 354.74,361.30 355.11,358.73 355.47,356.15 355.84,353.57 356.20,351.00 356.56,549.54 356.93,546.98 357.29,544.43 357.66,541.88 358.02,539.32 358.39,536.77 358.75,534.22 359.12,531.66 359.48,529.11 359.85,526.56 360.21,506.16 360.58,503.61 360.94,501.06 361.31,498.50 361.67,495.95 362.04,493.40 362.40,490.84 362.77,488.29 363.13,485.74 363.50,483.18 363.86,462.79 364.23,460.23 364.59,457.68 364.96,455.13 365.32,452.57 365.69,450.02 366.05,447.47 366.42,444.91 366.78,442.36 367.15,439.81 367.51,419.41 367.88,416.86 368.24,414.31 368.61,411.75 368.97,409.20 369.34,406.65 369.70,404.09 370.07,401.54 370.43,398.99 370.80,396.43 371.16,376.04 371.53,373.49 371.89,370.93 372.26,368.38 372.62,365.83 372.99,363.27 373.35,360.72 373.72,358.17 374.08,355.61 374.45,353.06 374.81,550.02 375.17,547.49 375.54,544.97 375.90,542.44 376.27,539.92 376.63,537.39 377.00,534.87 377.36,532.34 377.73,529.82 378.09,527.29 378.46,507.12 378.82,504.60 379.19,502.07 379.55,499.55 379.92,497.02 380.28,494.50 380.65,491.97 381.01,489.45 381.38,486.92 381.74,484.40 382.11,464.23 382.47,461.70 382.84,459.18 383.20,456.65 383.57,454.12 383.93,451.60 384.30,449.07 384.66,446.55 385.03,444.02 385.39,441.50 385.76,421.33 386.12,418.80 386.49,416.28 386.85,413.75 387.22,411.23 387.58,408.70 387.95,406.18 388.31,403.65 388.68,401.13 389.04,398.60 389.41,378.43 389.77,375.91 390.14,373.38 390.50,370.86 390.87,368.33 391.23,365.81 391.60,363.28 391.96,360.76 392.33,358.23 392.69,355.71 393.06,550.45 393.42,547.95 393.78,545.45 394.15,542.95 394.51,540.45 394.88,537.95 395.24,535.45 395.61,532.95 395.97,530.45 396.34,527.95 396.70,507.98 397.07,505.48 397.43,502.97 397.80,500.47 398.16,497.97 398.53,495.47 398.89,492.97 399.26,490.47 399.62,487.97 399.99,485.47 400.35,465.50 400.72,463.00 401.08,460.50 401.45,458.00 401.81,455.50 402.18,453.00 402.54,450.50 402.91,448.00 403.27,445.50 403.64,443.00 404.00,423.03 404.37,420.53 404.73,418.03 405.10,415.53 405.46,413.03 405.83,410.53 406.19,408.03 406.56,405.53 406.92,403.03 407.29,400.53 407.65,380.56 408.02,378.06 408.38,375.56 408.75,373.06 409.11,370.56 409.48,368.06 409.84,365.56 410.21,363.06 410.57,360.56 410.94,358.06 411.30,549.54 411.66,546.98 412.03,544.43 412.39,541.88 412.76,539.32 413.12,536.77 413.49,534.22 413.85,531.66 414.22,529.11 414.58,526.56 414.95,506.16 415.31,503.61 415.68,501.06 416.04,498.50 416.41,495.95 416.77,493.40 417.14,490.84 417.50,488.29 417.87,485.74 418.23,483.18 418.60,462.79 418.96,460.23 419.33,457.68 419.69,455.13 420.06,452.57 420.42,450.02 420.79,447.47 421.15,444.91 421.52,442.36 421.88,439.81 422.25,419.41 422.61,416.86 422.98,414.31 423.34,411.75 423.71,409.20 424.07,406.65 424.44,404.09 424.80,401.54 425.17,398.99 425.53,396.43 425.90,376.04 426.26,373.49 426.63,370.93 426.99,368.38 427.36,365.83 427.72,363.27 428.09,360.72 428.45,358.17 428.82,355.61 429.18,353.06 429.54,549.86 429.91,547.32 430.27,544.79 430.64,542.26 431.00,539.72 431.37,537.19 431.73,534.65 432.10,532.12 432.46,529.58 432.83,527.05 433.19,506.80 433.56,504.27 433.92,501.73 434.29,499.20 434.65,496.66 435.02,494.13 435.38,491.60 435.75,489.06 436.11,486.53 436.48,483.99 436.84,463.75 437.21,461.21 437.57,458.68 437.94,456.14 438.30,453.61 438.67,451.07 439.03,448.54 439.40,446.00 439.76,443.47 440.13,440.94 440.49,420.69 440.86,418.16 441.22,415.62 441.59,413.09 441.95,410.55 442.32,408.02 442.68,405.48 443.05,402.95 443.41,400.41 443.78,397.88 444.14,377.63 444.51,375.10 444.87,372.57 445.24,370.03 445.60,367.50 445.97,364.96 446.33,362.43 446.70,359.89 447.06,357.36 447.43,354.82 447.79,550.45 448.15,547.95 448.52,545.45 448.88,542.95 449.25,540.45 449.61,537.95 449.98,535.45 450.34,532.95 450.71,530.45 451.07,527.95 451.44,507.98 451.80,505.48 452.17,502.97 452.53,500.47 452.90,497.97 453.26,495.47 453.63,492.97 453.99,490.47 454.36,487.97 454.72,485.47 455.09,465.50 455.45,463.00 455.82,460.50 456.18,458.00 456.55,455.50 456.91,453.00 457.28,450.50 457.64,448.00 458.01,445.50 458.37,443.00 458.74,423.03 459.10,420.53 459.47,418.03 459.83,415.53 460.20,413.03 460.56,410.53 460.93,408.03 461.29,405.53 461.66,403.03 462.02,400.53 462.39,380.56 462.75,378.06 463.12,375.56 463.48,373.06 463.85,370.56 464.21,368.06 464.58,365.56 464.94,363.06 465.31,360.56 465.67,358.06 466.03,550.77 466.40,548.29 466.76,545.80 467.13,543.32 467.49,540.84 467.86,538.36 468.22,535.88 468.59,533.40 468.95,530.92 469.32,528.44 469.68,508.61 470.05,506.13 470.41,503.65 470.78,501.17 471.14,498.69 471.51,496.21 471.87,493.73 472.24,491.24 472.60,488.76 472.97,486.28 473.33,466.46 473.70,463.98 474.06,461.50 474.43,459.02 474.79,456.54 475.16,454.05 475.52,451.57 475.89,449.09 476.25,446.61 476.62,444.13 476.98,424.31 477.35,421.83 477.71,419.35 478.08,416.86 478.44,414.38 478.81,411.90 479.17,409.42 479.54,406.94 479.90,404.46 480.27,401.98 480.63,382.16 481.00,379.67 481.36,377.19 481.73,365.44 482.09,371.28 482.46,369.75 482.82,367.27 483.19,364.79 483.55,362.30 483.92,359.82 484.28,549.86 484.64,547.32 485.01,544.79 485.37,542.26 485.74,539.72 486.10,537.19 486.47,534.65 486.83,532.12 487.20,529.58 487.56,527.05 487.93,506.80 488.29,504.27 488.66,501.73 489.02,499.20 489.39,496.66 489.75,494.13 490.12,491.60 490.48,489.06 490.85,486.53 491.21,483.99 491.58,463.75 491.94,461.21 492.31,458.68 492.67,456.14 493.04,453.61 493.40,451.07 493.77,448.54 494.13,446.00 494.50,443.47 494.86,440.94 495.23,420.69 495.59,418.16 495.96,415.62 496.32,413.09 496.69,410.55 497.05,408.02 497.42,405.48 497.78,402.95 498.15,400.41 498.51,397.88 498.88,377.63 499.24,375.10 499.61,372.57 499.97,370.03 500.34,367.50 500.70,364.96 501.07,362.43 501.43,359.89 501.80,357.36 502.16,354.82 502.52,550.18 502.89,547.66 503.25,545.15 503.62,542.63 503.98,540.12 504.35,537.60 504.71,535.08 505.08,532.57 505.44,530.05 505.81,527.54 506.17,507.44 506.54,504.93 506.90,502.41 507.27,499.89 507.63,497.38 508.00,494.86 508.36,492.35 508.73,489.83 509.09,487.32 509.46,484.80 509.82,464.70 510.19,462.19 510.55,459.67 510.92,457.16 511.28,454.64 511.65,452.13 512.01,449.61 512.38,447.09 512.74,444.58 513.11,442.06 513.47,421.97 513.84,419.45 514.20,416.94 514.57,414.42 514.93,411.90 515.30,409.39 515.66,406.87 516.03,404.36 516.39,401.84 516.76,399.33 517.12,379.23 517.49,376.71 517.85,374.20 518.22,371.68 518.58,369.17 518.95,366.65 519.31,364.14 519.68,361.62 520.04,359.10 520.41,356.59"/>
<rect x="23.60" y="336.30" width="520.80" height="242.30" fill="none" stroke="#000" stroke-opacity="0.52" stroke-width="0.9"/>
<line x1="46.40" y1="578.60" x2="46.40" y2="581.10" stroke="#000" stroke-opacity="0.52" stroke-width="0.9"/>
<text x="46.40" y="587.95" text-anchor="middle" class="t">0</text>
<line x1="119.38" y1="578.60" x2="119.38" y2="581.10" stroke="#000" stroke-opacity="0.52" stroke-width="0.9"/>
<text x="119.38" y="587.95" text-anchor="middle" class="t">200</text>
<line x1="192.36" y1="578.60" x2="192.36" y2="581.10" stroke="#000" stroke-opacity="0.52" stroke-width="0.9"/>
<text x="192.36" y="587.95" text-anchor="middle" class="t">400</text>
<line x1="265.34" y1="578.60" x2="265.34" y2="581.10" stroke="#000" stroke-opacity="0.52" stroke-width="0.9"/>
<text x="265.34" y="587.95" text-anchor="middle" class="t">600</text>
<line x1="338.32" y1="578.60" x2="338.32" y2="581.10" stroke="#000" stroke-opacity="0.52" stroke-width="0.9"/>
<text x="338.32" y="587.95" text-anchor="middle" class="t">800</text>
<line x1="411.30" y1="578.60" x2="411.30" y2="581.10" stroke="#000" stroke-opacity="0.52" stroke-width="0.9"/>
<text x="411.30" y="587.95" text-anchor="middle" class="t">1000</text>
<line x1="484.28" y1="578.60" x2="484.28" y2="581.10" stroke="#000" stroke-opacity="0.52" stroke-width="0.9"/>
<text x="484.28" y="587.95" text-anchor="middle" class="t">1200</text>
<line x1="21.10" y1="564.00" x2="23.60" y2="564.00" stroke="#000" stroke-opacity="0.52" stroke-width="0.9"/>
<text x="18.70" y="566.40" text-anchor="end" class="t">1</text>
<line x1="21.10" y1="534.80" x2="23.60" y2="534.80" stroke="#000" stroke-opacity="0.52" stroke-width="0.9"/>
<text x="18.70" y="537.20" text-anchor="end" class="t">2</text>
<line x1="21.10" y1="505.60" x2="23.60" y2="505.60" stroke="#000" stroke-opacity="0.52" stroke-width="0.9"/>
<text x="18.70" y="508.00" text-anchor="end" class="t">3</text>
<line x1="21.10" y1="476.40" x2="23.60" y2="476.40" stroke="#000" stroke-opacity="0.52" stroke-width="0.9"/>
<text x="18.70" y="478.80" text-anchor="end" class="t">4</text>
<line x1="21.10" y1="447.20" x2="23.60" y2="447.20" stroke="#000" stroke-opacity="0.52" stroke-width="0.9"/>
<text x="18.70" y="449.60" text-anchor="end" class="t">5</text>
<line x1="21.10" y1="418.00" x2="23.60" y2="418.00" stroke="#000" stroke-opacity="0.52" stroke-width="0.9"/>
<text x="18.70" y="420.40" text-anchor="end" class="t">6</text>
<line x1="21.10" y1="388.80" x2="23.60" y2="388.80" stroke="#000" stroke-opacity="0.52" stroke-width="0.9"/>
<text x="18.70" y="391.20" text-anchor="end" class="t">7</text>
<line x1="21.10" y1="359.60" x2="23.60" y2="359.60" stroke="#000" stroke-opacity="0.52" stroke-width="0.9"/>
<text x="18.70" y="362.00" text-anchor="end" class="t">8</text>
<text x="284.00" y="596.60" text-anchor="middle" class="t">Index</text>
<text transform="translate(11.00,457.45) rotate(-90)" text-anchor="middle" class="t">Current (A)</text>
<rect x="462.00" y="339.30" width="79.00" height="11.50" rx="1.3" fill="#fff" fill-opacity="0.8" stroke="#c8c8c8" stroke-width="0.7"/>
<line x1="464.70" y1="344.75" x2="478.00" y2="344.75" stroke="#ff7f0e" stroke-width="1.3"/>
<text x="482.90" y="346.75" class="t">Current (I_mp(A))</text>
<rect x="90.15" y="667.30" width="35.95" height="242.70" fill="#808080"/>
<rect x="162.05" y="667.30" width="35.95" height="242.70" fill="#808080"/>
<rect x="233.95" y="667.30" width="35.95" height="242.70" fill="#808080"/>
<rect x="305.85" y="667.30" width="35.95" height="242.70" fill="#808080"/>
<clipPath id="c667"><rect x="31.40" y="667.30" width="513.10" height="242.70"/></clipPath>
<polyline clip-path="url(#c667)" fill="none" stroke="#2ca02c" stroke-width="1.3" stroke-linejoin="round" stroke-linecap="butt" points="54.20,872.93 54.56,870.59 54.92,868.24 55.28,865.89 55.64,863.55 56.00,861.20 56.36,858.86 56.72,856.51 57.08,852.43 57.44,850.02 57.80,830.73 58.15,828.32 58.51,825.90 58.87,823.49 59.23,821.08 59.59,818.66 59.95,816.25 60.31,813.83 60.67,811.42 61.03,809.00 61.39,789.72 61.75,787.30 62.11,784.89 62.47,782.47 62.83,780.06 63.19,777.64 63.55,775.23 63.91,772.81 64.27,770.40 64.63,767.99 64.98,744.00 65.34,741.52 65.70,739.04 66.06,736.55 66.42,734.07 66.78,731.59 67.14,729.10 67.50,726.62 67.86,724.14 68.22,721.65 68.58,701.81 68.94,699.33 69.30,696.85 69.66,694.36 70.02,691.88 70.38,689.40 70.74,686.91 71.10,684.43 71.46,681.95 71.82,679.46 72.17,873.18 72.53,869.57 72.89,867.17 73.25,864.77 73.61,862.37 73.97,859.97 74.33,857.57 74.69,855.16 75.05,850.99 75.41,848.52 75.77,828.77 76.13,826.30 76.49,823.83 76.85,821.36 77.21,818.88 77.57,816.41 77.93,813.94 78.29,811.47 78.65,809.00 79.01,806.52 79.37,786.78 79.72,784.31 80.08,781.83 80.44,779.36 80.80,776.89 81.16,774.42 81.52,771.95 81.88,769.47 82.24,767.00 82.60,764.53 82.96,744.78 83.32,742.31 83.68,739.84 84.04,737.37 84.40,734.90 84.76,732.42 85.12,729.95 85.48,727.48 85.84,725.01 86.20,722.54 86.56,702.79 86.91,700.32 87.27,697.85 87.63,695.37 87.99,692.90 88.35,690.43 88.71,687.96 89.07,685.48 89.43,683.01 89.79,680.54 90.15,893.90 90.51,892.78 90.87,891.66 91.23,890.54 91.59,889.42 91.95,887.49 92.31,886.34 92.67,885.18 93.03,884.02 93.39,882.87 93.75,873.63 94.10,872.48 94.46,871.32 94.82,870.17 95.18,869.01 95.54,867.85 95.90,866.70 96.26,864.04 96.62,862.85 96.98,861.66 97.34,852.13 97.70,850.94 98.06,849.75 98.42,848.55 98.78,847.36 99.14,846.17 99.50,844.98 99.86,843.78 100.22,842.59 100.58,841.40 100.94,831.87 101.29,830.68 101.65,829.49 102.01,828.30 102.37,827.10 102.73,825.91 103.09,824.72 103.45,823.53 103.81,822.33 104.17,821.14 104.53,811.62 104.89,810.42 105.25,809.23 105.61,808.04 105.97,806.85 106.33,805.65 106.69,804.46 107.05,803.27 107.41,802.08 107.77,800.88 108.12,894.06 108.48,892.95 108.84,891.84 109.20,890.73 109.56,889.62 109.92,888.51 110.28,887.40 110.64,885.42 111.00,884.28 111.36,883.13 111.72,873.98 112.08,872.83 112.44,871.68 112.80,870.54 113.16,869.39 113.52,868.25 113.88,867.10 114.24,865.95 114.60,864.81 114.96,863.66 115.31,854.51 115.67,851.48 116.03,850.29 116.39,849.11 116.75,847.93 117.11,846.75 117.47,845.57 117.83,844.38 118.19,843.20 118.55,842.02 118.91,832.58 119.27,831.39 119.63,830.21 119.99,829.03 120.35,827.85 120.71,826.67 121.07,825.48 121.43,824.30 121.79,823.12 122.15,821.94 122.50,812.49 122.86,811.31 123.22,810.13 123.58,808.95 123.94,807.76 124.30,806.58 124.66,805.40 125.02,804.22 125.38,803.04 125.74,801.85 126.10,894.06 126.46,872.04 126.82,869.77 127.18,867.50 127.54,865.24 127.90,862.97 128.26,860.71 128.62,858.44 128.98,856.18 129.34,852.12 129.69,833.48 130.05,831.14 130.41,828.81 130.77,826.47 131.13,824.14 131.49,821.81 131.85,819.47 132.21,817.14 132.57,814.80 132.93,812.47 133.29,793.83 133.65,791.49 134.01,789.16 134.37,786.82 134.73,784.49 135.09,782.15 135.45,779.82 135.81,777.49 136.17,775.15 136.53,772.82 136.88,754.17 137.24,751.84 137.60,749.51 137.96,747.17 138.32,744.84 138.68,742.50 139.04,740.17 139.40,732.68 139.76,730.28 140.12,727.88 140.48,708.69 140.84,706.28 141.20,703.88 141.56,701.48 141.92,699.07 142.28,696.67 142.64,694.27 143.00,691.87 143.36,689.46 143.72,687.06 144.07,874.58 144.43,871.05 144.79,868.73 145.15,866.41 145.51,864.09 145.87,861.77 146.23,859.46 146.59,857.14 146.95,854.82 147.31,852.50 147.67,831.57 148.03,829.18 148.39,826.79 148.75,824.40 149.11,822.01 149.47,819.62 149.83,817.23 150.19,814.84 150.55,812.45 150.91,810.06 151.26,790.97 151.62,788.58 151.98,786.19 152.34,783.80 152.70,781.41 153.06,779.02 153.42,776.63 153.78,774.24 154.14,771.85 154.50,769.46 154.86,750.37 155.22,747.98 155.58,745.59 155.94,743.20 156.30,740.81 156.66,738.42 157.02,736.03 157.38,733.64 157.74,731.25 158.10,728.86 158.45,709.77 158.81,707.38 159.17,704.99 159.53,702.60 159.89,700.21 160.25,697.82 160.61,695.43 160.97,693.04 161.33,690.65 161.69,688.26 162.05,899.49 162.41,898.69 162.77,897.90 163.13,897.11 163.49,896.32 163.85,895.52 164.21,894.14 164.57,893.32 164.93,892.50 165.29,891.68 165.64,885.15 166.00,884.33 166.36,883.51 166.72,882.69 167.08,881.87 167.44,881.05 167.80,880.24 168.16,879.42 168.52,878.60 168.88,876.78 169.24,870.06 169.60,869.22 169.96,868.38 170.32,867.54 170.68,866.70 171.04,865.85 171.40,865.01 171.76,864.17 172.12,863.33 172.48,862.49 172.83,855.77 173.19,854.93 173.55,854.08 173.91,853.24 174.27,852.40 174.63,851.56 174.99,850.72 175.35,849.88 175.71,849.03 176.07,848.19 176.43,841.47 176.79,840.63 177.15,839.79 177.51,838.95 177.87,838.11 178.23,837.26 178.59,836.42 178.95,835.58 179.31,834.74 179.67,833.90 180.02,899.60 180.38,898.81 180.74,898.03 181.10,897.24 181.46,896.45 181.82,895.67 182.18,894.88 182.54,893.48 182.90,892.67 183.26,891.86 183.62,885.37 183.98,884.56 184.34,883.75 184.70,882.94 185.06,882.13 185.42,881.32 185.78,880.50 186.14,879.69 186.50,878.88 186.86,878.07 187.21,871.59 187.57,870.77 187.93,869.96 188.29,869.15 188.65,868.34 189.01,867.53 189.37,866.72 189.73,865.91 190.09,863.74 190.45,862.90 190.81,856.24 191.17,855.40 191.53,854.57 191.89,853.73 192.25,852.90 192.61,852.06 192.97,851.23 193.33,850.39 193.69,849.56 194.05,848.72 194.40,842.06 194.76,841.22 195.12,840.39 195.48,839.55 195.84,838.72 196.20,837.89 196.56,837.05 196.92,836.22 197.28,835.38 197.64,834.55 198.00,900.03 198.36,872.45 198.72,870.21 199.08,867.96 199.44,865.72 199.80,863.48 200.16,861.23 200.52,858.99 200.88,854.99 201.24,852.68 201.59,834.20 201.95,831.89 202.31,829.58 202.67,827.27 203.03,824.95 203.39,822.64 203.75,820.33 204.11,818.02 204.47,815.70 204.83,813.39 205.19,794.92 205.55,792.60 205.91,790.29 206.27,787.98 206.63,785.67 206.99,783.35 207.35,781.04 207.71,778.73 208.07,776.41 208.43,774.10 208.79,755.63 209.14,753.32 209.50,751.00 209.86,748.69 210.22,746.38 210.58,744.07 210.94,741.75 211.30,739.44 211.66,737.13 212.02,734.81 212.38,716.34 212.74,714.03 213.10,711.72 213.46,709.40 213.82,707.09 214.18,704.78 214.54,702.46 214.90,700.15 215.26,700.28 215.62,702.12 215.98,875.47 216.33,873.91 216.69,871.74 217.05,868.88 217.41,865.95 217.77,863.72 218.13,861.48 218.49,859.25 218.85,857.02 219.21,854.79 219.57,836.96 219.93,834.73 220.29,829.98 220.65,827.68 221.01,825.38 221.37,823.08 221.73,820.77 222.09,818.47 222.45,816.17 222.81,813.87 223.17,795.48 223.52,793.18 223.88,790.88 224.24,788.58 224.60,786.28 224.96,783.98 225.32,781.68 225.68,779.37 226.04,777.07 226.40,774.77 226.76,756.39 227.12,754.08 227.48,751.78 227.84,749.48 228.20,747.18 228.56,744.88 228.92,742.58 229.28,740.27 229.64,737.97 230.00,735.67 230.36,717.29 230.71,714.99 231.07,712.68 231.43,710.38 231.79,708.08 232.15,705.78 232.51,703.48 232.87,701.18 233.23,698.87 233.59,696.57 233.95,892.52 234.31,891.32 234.67,890.11 235.03,888.91 235.39,887.71 235.75,886.51 236.11,884.42 236.47,883.18 236.83,881.94 237.19,880.70 237.55,870.81 237.90,869.57 238.26,868.33 238.62,867.09 238.98,865.85 239.34,864.61 239.70,863.37 240.06,862.13 240.42,860.89 240.78,857.99 241.14,847.78 241.50,846.50 241.86,845.23 242.22,843.95 242.58,842.67 242.94,841.39 243.30,840.11 243.66,838.84 244.02,837.56 244.38,836.28 244.74,826.08 245.09,824.80 245.45,823.52 245.81,822.24 246.17,820.97 246.53,819.69 246.89,818.41 247.25,817.13 247.61,815.85 247.97,814.58 248.33,804.37 248.69,803.09 249.05,801.82 249.41,800.54 249.77,799.26 250.13,797.98 250.49,796.70 250.85,795.43 251.21,794.15 251.57,792.87 251.93,892.75 252.28,891.56 252.64,890.38 253.00,889.19 253.36,888.00 253.72,886.82 254.08,885.63 254.44,883.52 254.80,882.30 255.16,881.07 255.52,871.29 255.88,870.06 256.24,868.84 256.60,867.61 256.96,866.39 257.32,865.16 257.68,863.94 258.04,862.71 258.40,861.49 258.76,860.27 259.12,850.48 259.47,849.26 259.83,848.03 260.19,846.81 260.55,845.58 260.91,844.36 261.27,843.13 261.63,841.91 261.99,838.42 262.35,837.16 262.71,827.07 263.07,825.81 263.43,824.54 263.79,823.28 264.15,822.02 264.51,820.75 264.87,819.49 265.23,818.23 265.59,816.96 265.95,815.70 266.31,805.61 266.66,804.35 267.02,803.09 267.38,801.82 267.74,800.56 268.10,799.30 268.46,798.03 268.82,796.77 269.18,795.51 269.54,794.24 269.90,893.40 270.26,873.86 270.62,871.69 270.98,869.53 271.34,867.36 271.70,865.20 272.06,863.03 272.42,860.87 272.78,858.71 273.14,856.54 273.50,836.87 273.85,834.63 274.21,832.40 274.57,830.17 274.93,827.93 275.29,825.70 275.65,823.46 276.01,821.23 276.37,818.99 276.73,816.76 277.09,798.91 277.45,796.67 277.81,794.44 278.17,792.21 278.53,789.97 278.89,787.74 279.25,785.50 279.61,783.27 279.97,781.03 280.33,778.80 280.69,760.95 281.04,758.72 281.40,756.48 281.76,754.25 282.12,752.01 282.48,749.78 282.84,747.54 283.20,745.31 283.56,743.07 283.92,740.84 284.28,722.99 284.64,720.76 285.00,718.52 285.36,716.29 285.72,714.05 286.08,711.82 286.44,709.58 286.80,707.35 287.16,705.11 287.52,702.88 287.88,877.52 288.23,875.44 288.59,873.37 288.95,871.29 289.31,869.21 289.67,865.60 290.03,863.46 290.39,861.31 290.75,859.16 291.11,857.02 291.47,839.87 291.83,837.73 292.19,835.58 292.55,833.43 292.91,831.29 293.27,829.14 293.63,826.99 293.99,824.85 294.35,819.79 294.71,817.57 295.06,799.87 295.42,797.66 295.78,795.44 296.14,793.23 296.50,791.01 296.86,788.80 297.22,786.58 297.58,784.36 297.94,782.15 298.30,779.93 298.66,762.23 299.02,760.02 299.38,757.80 299.74,755.59 300.10,753.37 300.46,751.16 300.82,748.94 301.18,746.72 301.54,744.51 301.90,742.29 302.25,724.60 302.61,722.38 302.97,720.16 303.33,717.95 303.69,715.73 304.05,713.52 304.41,711.30 304.77,709.09 305.13,706.87 305.49,704.65 305.85,890.54 306.21,889.22 306.57,887.91 306.93,886.59 307.29,885.28 307.65,883.96 308.01,882.64 308.37,881.33 308.73,880.01 309.09,877.62 309.44,866.78 309.80,865.43 310.16,864.07 310.52,862.71 310.88,861.36 311.24,860.00 311.60,858.64 311.96,857.29 312.32,855.93 312.68,854.57 313.04,841.46 313.40,840.06 313.76,838.65 314.12,837.25 314.48,835.85 314.84,834.45 315.20,833.05 315.56,831.65 315.92,830.24 316.28,828.84 316.63,817.65 316.99,816.25 317.35,814.85 317.71,813.44 318.07,812.04 318.43,810.64 318.79,809.24 319.15,807.84 319.51,806.44 319.87,805.03 320.23,793.84 320.59,792.44 320.95,791.04 321.31,789.64 321.67,788.23 322.03,786.83 322.39,785.43 322.75,784.03 323.11,782.63 323.47,781.23 323.82,891.51 324.18,889.52 324.54,888.22 324.90,886.92 325.26,885.62 325.62,884.32 325.98,883.02 326.34,881.72 326.70,880.42 327.06,878.06 327.42,867.35 327.78,866.01 328.14,864.67 328.50,863.33 328.86,861.99 329.22,860.65 329.58,859.31 329.94,857.97 330.30,856.63 330.66,855.29 331.01,844.58 331.37,843.24 331.73,841.90 332.09,840.56 332.45,839.22 332.81,837.88 333.17,836.54 333.53,835.20 333.89,833.86 334.25,832.52 334.61,821.82 334.97,820.48 335.33,819.14 335.69,817.80 336.05,813.28 336.41,811.90 336.77,810.52 337.13,809.13 337.49,807.75 337.85,806.36 338.20,795.31 338.56,793.92 338.92,792.54 339.28,791.15 339.64,789.77 340.00,788.38 340.36,787.00 340.72,785.62 341.08,784.23 341.44,782.85 341.80,891.51 342.16,875.35 342.52,873.27 342.88,871.19 343.24,869.10 343.60,867.02 343.96,864.94 344.32,862.86 344.68,860.78 345.04,858.69 345.39,842.06 345.75,837.54 346.11,835.39 346.47,833.24 346.83,831.09 347.19,828.94 347.55,826.78 347.91,824.63 348.27,822.48 348.63,820.33 348.99,803.14 349.35,800.99 349.71,798.84 350.07,796.69 350.43,794.54 350.79,792.38 351.15,790.23 351.51,788.08 351.87,785.93 352.23,783.78 352.58,766.59 352.94,764.44 353.30,762.29 353.66,760.14 354.02,757.99 354.38,755.83 354.74,753.68 355.10,751.53 355.46,749.38 355.82,747.23 356.18,730.04 356.54,727.89 356.90,725.74 357.26,723.59 357.62,721.43 357.98,719.28 358.34,717.13 358.70,714.98 359.06,712.83 359.42,710.68 359.77,878.91 360.13,876.92 360.49,874.92 360.85,872.93 361.21,870.93 361.57,868.93 361.93,866.94 362.29,863.28 362.65,861.22 363.01,859.15 363.37,842.66 363.73,840.60 364.09,838.54 364.45,836.47 364.81,834.41 365.17,832.34 365.53,830.28 365.89,828.21 366.25,823.25 366.61,821.12 366.96,804.08 367.32,801.94 367.68,799.81 368.04,797.68 368.40,795.54 368.76,793.41 369.12,791.28 369.48,789.14 369.84,787.01 370.20,784.88 370.56,767.84 370.92,765.70 371.28,763.57 371.64,761.44 372.00,759.30 372.36,757.17 372.72,755.04 373.08,752.90 373.44,750.77 373.80,748.64 374.15,731.60 374.51,729.46 374.87,727.33 375.23,725.20 375.59,723.06 375.95,720.93 376.31,718.80 376.67,716.66 377.03,714.53 377.39,712.40 377.75,879.29 378.11,877.32 378.47,875.34 378.83,873.37 379.19,871.39 379.55,869.42 379.91,867.45 380.27,865.47 380.63,861.79 380.99,859.75 381.34,843.44 381.70,841.40 382.06,839.36 382.42,837.31 382.78,835.27 383.14,833.23 383.50,831.19 383.86,829.15 384.22,827.11 384.58,825.06 384.94,808.75 385.30,806.71 385.66,804.67 386.02,802.63 386.38,800.59 386.74,794.73 387.10,792.62 387.46,790.51 387.82,788.40 388.18,786.29 388.53,769.44 388.89,767.33 389.25,765.22 389.61,763.11 389.97,761.00 390.33,758.89 390.69,756.78 391.05,754.67 391.41,752.56 391.77,750.45 392.13,733.60 392.49,731.49 392.85,729.38 393.21,727.27 393.57,725.16 393.93,723.05 394.29,720.94 394.65,718.83 395.01,716.72 395.37,714.61 395.72,880.78 396.08,878.89 396.44,875.71 396.80,873.76 397.16,871.81 397.52,869.85 397.88,867.90 398.24,865.94 398.60,863.99 398.96,860.28 399.32,844.13 399.68,842.11 400.04,840.09 400.40,838.06 400.76,836.04 401.12,834.02 401.48,832.00 401.84,829.98 402.20,827.96 402.56,825.94 402.91,809.79 403.27,807.77 403.63,805.74 403.99,803.72 404.35,801.70 404.71,799.68 405.07,797.66 405.43,795.64 405.79,793.62 406.15,791.59 406.51,775.45 406.87,773.42 407.23,771.40 407.59,769.38 407.95,767.36 408.31,765.34 408.67,763.32 409.03,761.30 409.39,759.27 409.75,752.06 410.10,735.37 410.46,733.28 410.82,731.20 411.18,729.11 411.54,727.02 411.90,724.93 412.26,722.84 412.62,720.75 412.98,718.66 413.34,716.57 413.70,880.09 414.06,878.16 414.42,876.24 414.78,874.31 415.14,870.93 415.50,868.93 415.86,866.94 416.22,864.94 416.58,862.95 416.94,860.95 417.29,845.01 417.65,843.01 418.01,841.02 418.37,839.02 418.73,834.41 419.09,832.34 419.45,830.28 419.81,828.21 420.17,826.15 420.53,824.08 420.89,807.59 421.25,805.53 421.61,803.46 421.97,801.40 422.33,799.33 422.69,797.27 423.05,795.20 423.41,793.14 423.77,791.08 424.13,789.01 424.48,772.52 424.84,770.46 425.20,768.39 425.56,766.33 425.92,764.26 426.28,762.20 426.64,760.13 427.00,758.07 427.36,756.00 427.72,753.94 428.08,737.45 428.44,735.38 428.80,733.32 429.16,731.26 429.52,729.19 429.88,727.13 430.24,725.06 430.60,723.00 430.96,720.93 431.32,718.87 431.67,880.33 432.03,878.42 432.39,876.51 432.75,874.59 433.11,872.68 433.47,870.77 433.83,868.86 434.19,865.30 434.55,863.31 434.91,861.33 435.27,845.51 435.63,843.53 435.99,841.55 436.35,839.57 436.71,837.59 437.07,835.60 437.43,833.62 437.79,831.64 438.15,829.66 438.51,824.74 438.86,808.37 439.22,806.32 439.58,804.27 439.94,802.22 440.30,800.17 440.66,798.12 441.02,796.07 441.38,794.02 441.74,791.97 442.10,789.92 442.46,773.55 442.82,771.50 443.18,769.45 443.54,767.40 443.90,765.36 444.26,763.31 444.62,761.26 444.98,759.21 445.34,757.16 445.70,755.11 446.05,738.74 446.41,736.69 446.77,734.64 447.13,732.59 447.49,730.54 447.85,728.49 448.21,726.44 448.57,724.39 448.93,722.34 449.29,720.29 449.65,880.78 450.01,878.89 450.37,877.00 450.73,875.12 451.09,873.23 451.45,871.34 451.81,869.45 452.17,867.57 452.53,865.68 452.89,862.04 453.24,846.43 453.60,844.47 453.96,842.52 454.32,840.56 454.68,838.61 455.04,836.66 455.40,834.70 455.76,832.75 456.12,830.79 456.48,828.84 456.84,813.23 457.20,811.28 457.56,809.32 457.92,807.37 458.28,805.41 458.64,803.46 459.00,801.50 459.36,799.55 459.72,797.60 460.08,791.59 460.43,775.45 460.79,773.42 461.15,771.40 461.51,769.38 461.87,767.36 462.23,765.34 462.59,763.32 462.95,761.30 463.31,759.27 463.67,757.25 464.03,741.10 464.39,739.08 464.75,737.06 465.11,735.04 465.47,733.02 465.83,731.00 466.19,728.98 466.55,726.95 466.91,724.93 467.27,722.91 467.62,882.16 467.98,880.36 468.34,877.27 468.70,875.40 469.06,873.53 469.42,871.65 469.78,869.78 470.14,867.91 470.50,864.36 470.86,862.42 471.22,846.93 471.58,844.99 471.94,843.05 472.30,841.11 472.66,839.17 473.02,837.23 473.38,835.29 473.74,833.35 474.10,831.41 474.46,829.47 474.81,813.98 475.17,812.04 475.53,810.10 475.89,808.16 476.25,806.22 476.61,804.28 476.97,802.34 477.33,800.40 477.69,798.46 478.05,796.52 478.41,781.03 478.77,779.09 479.13,777.15 479.49,775.21 479.85,773.27 480.21,771.33 480.57,769.39 480.93,767.45 481.29,765.51 481.65,763.58 482.00,748.08 482.36,746.14 482.72,744.20 483.08,728.88 483.44,733.60 483.80,732.36 484.16,730.36 484.52,728.35 484.88,726.34 485.24,724.34 485.60,881.50 485.96,879.66 486.32,877.81 486.68,875.97 487.04,874.12 487.40,870.77 487.76,868.86 488.12,866.94 488.48,865.03 488.84,861.33 489.19,845.51 489.55,843.53 489.91,841.55 490.27,839.57 490.63,837.59 490.99,835.60 491.35,833.62 491.71,831.64 492.07,829.66 492.43,827.68 492.79,811.86 493.15,809.88 493.51,807.89 493.87,805.91 494.23,803.93 494.59,801.95 494.95,799.97 495.31,797.99 495.67,796.01 496.03,794.03 496.38,778.20 496.74,776.22 497.10,774.24 497.46,772.26 497.82,770.28 498.18,768.30 498.54,766.32 498.90,764.34 499.26,762.35 499.62,760.37 499.98,744.55 500.34,742.57 500.70,740.59 501.06,738.61 501.42,736.62 501.78,734.64 502.14,732.66 502.50,730.68 502.86,728.70 503.22,726.72 503.57,881.73 503.93,879.90 504.29,878.07 504.65,876.24 505.01,874.41 505.37,872.58 505.73,870.75 506.09,868.92 506.45,865.38 506.81,863.49 507.17,848.32 507.53,846.42 507.89,844.52 508.25,842.63 508.61,840.73 508.97,838.83 509.33,836.93 509.69,835.03 510.05,833.13 510.41,828.31 510.76,812.61 511.12,810.64 511.48,808.67 511.84,806.71 512.20,804.74 512.56,802.77 512.92,800.81 513.28,798.84 513.64,796.87 514.00,794.91 514.36,779.20 514.72,777.23 515.08,775.27 515.44,773.30 515.80,771.34 516.16,769.37 516.52,767.40 516.88,765.44 517.24,763.47 517.60,761.50 517.96,745.80 518.31,743.83 518.67,741.86 519.03,739.90 519.39,737.93 519.75,735.96 520.11,734.00 520.47,732.03 520.83,730.07 521.19,728.10"/>
<rect x="31.40" y="667.30" width="513.10" height="242.70" fill="none" stroke="#000" stroke-opacity="0.52" stroke-width="0.9"/>
<line x1="54.20" y1="910.00" x2="54.20" y2="912.50" stroke="#000" stroke-opacity="0.52" stroke-width="0.9"/>
<text x="54.20" y="919.35" text-anchor="middle" class="t">0</text>
<line x1="126.10" y1="910.00" x2="126.10" y2="912.50" stroke="#000" stroke-opacity="0.52" stroke-width="0.9"/>
<text x="126.10" y="919.35" text-anchor="middle" class="t">200</text>
<line x1="198.00" y1="910.00" x2="198.00" y2="912.50" stroke="#000" stroke-opacity="0.52" stroke-width="0.9"/>
<text x="198.00" y="919.35" text-anchor="middle" class="t">400</text>
<line x1="269.90" y1="910.00" x2="269.90" y2="912.50" stroke="#000" stroke-opacity="0.52" stroke-width="0.9"/>
<text x="269.90" y="919.35" text-anchor="middle" class="t">600</text>
<line x1="341.80" y1="910.00" x2="341.80" y2="912.50" stroke="#000" stroke-opacity="0.52" stroke-width="0.9"/>
<text x="341.80" y="919.35" text-anchor="middle" class="t">800</text>
<line x1="413.70" y1="910.00" x2="413.70" y2="912.50" stroke="#000" stroke-opacity="0.52" stroke-width="0.9"/>
<text x="413.70" y="919.35" text-anchor="middle" class="t">1000</text>
<line x1="485.60" y1="910.00" x2="485.60" y2="912.50" stroke="#000" stroke-opacity="0.52" stroke-width="0.9"/>
<text x="485.60" y="919.35" text-anchor="middle" class="t">1200</text>
<line x1="28.90" y1="863.40" x2="31.40" y2="863.40" stroke="#000" stroke-opacity="0.52" stroke-width="0.9"/>
<text x="26.50" y="865.80" text-anchor="end" class="t">50</text>
<line x1="28.90" y1="813.77" x2="31.40" y2="813.77" stroke="#000" stroke-opacity="0.52" stroke-width="0.9"/>
<text x="26.50" y="816.17" text-anchor="end" class="t">100</text>
<line x1="28.90" y1="764.13" x2="31.40" y2="764.13" stroke="#000" stroke-opacity="0.52" stroke-width="0.9"/>
<text x="26.50" y="766.53" text-anchor="end" class="t">150</text>
<line x1="28.90" y1="714.50" x2="31.40" y2="714.50" stroke="#000" stroke-opacity="0.52" stroke-width="0.9"/>
<text x="26.50" y="716.90" text-anchor="end" class="t">200</text>
<text x="287.95" y="928.00" text-anchor="middle" class="t">Index</text>
<text transform="translate(11.00,788.65) rotate(-90)" text-anchor="middle" class="t">Power (W)</text>
<rect x="472.20" y="670.40" width="68.80" height="11.90" rx="1.3" fill="#fff" fill-opacity="0.8" stroke="#c8c8c8" stroke-width="0.7"/>
<line x1="474.90" y1="676.05" x2="488.20" y2="676.05" stroke="#2ca02c" stroke-width="1.3"/>
<text x="493.10" y="678.05" class="t">Power (Power)</text>
</svg>
<div class="cap" style="top:269px"><i>(</i><b>a</b><i>)</i></div>
<div class="cap" style="top:600px"><i>(</i><b>b</b><i>)</i></div>
<div class="cap" style="top:932px"><i>(</i><b>c</b><i>)</i></div>
</body></html>
